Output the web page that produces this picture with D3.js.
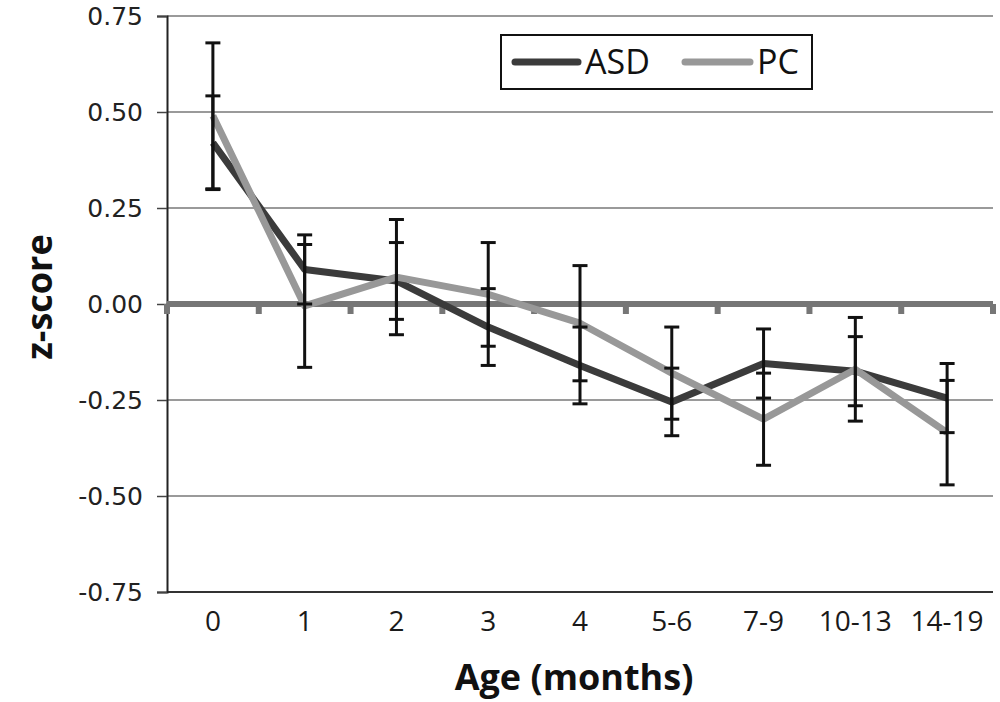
<!DOCTYPE html>
<html>
<head>
<meta charset="utf-8">
<script src="https://cdn.jsdelivr.net/npm/d3@7"></script>
<style>
  body { margin: 0; background: #fff; }
</style>
</head>
<body>
<div id="container"></div>
<script>
// chart values
let categories = ["0", "1", "2", "3", "4", "5-6", "7-9", "10-13", "14-19"];
let asdValues = [0.42, 0.09, 0.06, -0.06, -0.16, -0.255, -0.155, -0.175, -0.245];
let asdErrors = [0.122, 0.09, 0.10, 0.10, 0.10, 0.088, 0.09, 0.09, 0.09];
let pcValues = [0.49, -0.005, 0.07, 0.025, -0.05, -0.18, -0.30, -0.17, -0.335];
let pcErrors = [0.19, 0.16, 0.15, 0.135, 0.15, 0.12, 0.12, 0.135, 0.136];
let yTicks = [0.75, 0.5, 0.25, 0, -0.25, -0.5, -0.75];

let w = 1000;
let h = 702;
let plotLeft = 167;
let plotRight = 993;
let plotTop = 16;
let plotBottom = 592;

let viz = d3.select("#container")
  .append("svg")
    .attr("width", w)
    .attr("height", h)
;
viz.append("rect").attr("width", w).attr("height", h).attr("fill", "#fff");

let xScale = d3.scaleBand().domain(categories).range([plotLeft, plotRight]);
let yScale = d3.scaleLinear().domain([-0.75, 0.75]).range([plotBottom, plotTop]);

// gridlines
viz.append("g").selectAll("line")
  .data(yTicks.filter(function(d){ return d != 0; }))
  .enter()
  .append("line")
    .attr("x1", plotLeft)
    .attr("x2", plotRight)
    .attr("y1", function(d){ return yScale(d); })
    .attr("y2", function(d){ return yScale(d); })
    .attr("stroke", function(d){ return d == -0.75 ? "#333" : "#9a9a9a"; })
    .attr("stroke-width", 2)
;

// y axis (plain hyphen for the minus sign, like the original)
let yAxis = d3.axisLeft(yScale)
  .tickValues(yTicks)
  .tickSize(10)
  .tickPadding(14)
  .tickFormat(function(d){ return d.toFixed(2); });
let yAxisGroup = viz.append("g")
    .attr("class", "yaxisgroup")
    .attr("transform", "translate(" + plotLeft + ",0)")
;
yAxisGroup.call(yAxis);
yAxisGroup.select(".domain").attr("stroke", "#222").attr("stroke-width", 2);
yAxisGroup.selectAll(".tick line").attr("stroke", "#444").attr("stroke-width", 1.5);
yAxisGroup.selectAll(".tick text")
  .attr("font-family", "DejaVu Sans")
  .attr("font-size", 25)
  .attr("fill", "#222");

// zero axis with small ticks at category boundaries
let zeroY = yScale(0);
viz.append("line")
  .attr("x1", plotLeft)
  .attr("x2", plotRight)
  .attr("y1", zeroY)
  .attr("y2", zeroY)
  .attr("stroke", "#767676")
  .attr("stroke-width", 6)
;
let boundaries = categories.map(function(c){ return xScale(c); }).concat([plotRight]);
viz.append("g").selectAll("rect")
  .data(boundaries)
  .enter()
  .append("rect")
    .attr("x", function(d){ return d - 3; })
    .attr("y", zeroY)
    .attr("width", 6)
    .attr("height", 10)
    .attr("fill", "#767676")
;

// x tick labels
let xAxis = d3.axisBottom(xScale).tickSize(0).tickPadding(0);
let xAxisGroup = viz.append("g")
    .attr("class", "xaxisgroup")
    .attr("transform", "translate(0,611)")
;
xAxisGroup.call(xAxis);
xAxisGroup.select(".domain").remove();
xAxisGroup.selectAll(".tick text")
  .attr("dy", 0)
  .attr("y", 20)
  .attr("font-family", "Open Sans")
  .attr("font-size", 28)
  .attr("fill", "#1a1a1a");

// series
function getX(d, i){ return xScale(categories[i]) + xScale.bandwidth() / 2; }

let lineMaker = d3.line()
  .x(function(d, i){ return getX(d, i); })
  .y(function(d){ return yScale(d); })
;

let series = [
  { name: "ASD", values: asdValues, errors: asdErrors, color: "#3b3b3b" },
  { name: "PC", values: pcValues, errors: pcErrors, color: "#989898" }
];

series.forEach(function(s){
  viz.append("path")
    .datum(s.values)
    .attr("d", lineMaker)
    .attr("fill", "none")
    .attr("stroke", s.color)
    .attr("stroke-width", 7)
    .attr("stroke-linejoin", "round")
  ;
});

// error bars
series.forEach(function(s){
  let g = viz.append("g");
  s.values.forEach(function(v, i){
    let x = getX(v, i);
    let y1 = yScale(v + s.errors[i]);
    let y2 = yScale(v - s.errors[i]);
    g.append("line")
      .attr("x1", x).attr("x2", x)
      .attr("y1", y1).attr("y2", y2)
      .attr("stroke", "#111").attr("stroke-width", 3);
    [y1, y2].forEach(function(yy){
      g.append("line")
        .attr("x1", x - 7.5).attr("x2", x + 7.5)
        .attr("y1", yy).attr("y2", yy)
        .attr("stroke", "#111").attr("stroke-width", 3);
    });
  });
});

// legend
let legend = viz.append("g");
legend.append("rect")
  .attr("x", 501).attr("y", 35)
  .attr("width", 311).attr("height", 54)
  .attr("fill", "#fff")
  .attr("stroke", "#111")
  .attr("stroke-width", 2)
;
let legendItems = [
  { x1: 515, x2: 578, tx: 585 },
  { x1: 685, x2: 750, tx: 757 }
];
series.forEach(function(s, i){
  let it = legendItems[i];
  legend.append("line")
    .attr("x1", it.x1).attr("x2", it.x2)
    .attr("y1", 62).attr("y2", 62)
    .attr("stroke", s.color)
    .attr("stroke-width", 7)
    .attr("stroke-linecap", "round");
  legend.append("text")
    .attr("x", it.tx)
    .attr("y", 74)
    .attr("font-family", "Open Sans")
    .attr("font-size", 34)
    .attr("fill", "#111")
    .text(s.name);
});

// axis titles
viz.append("text")
  .attr("transform", "translate(52,297) rotate(-90)")
  .attr("text-anchor", "middle")
  .attr("font-family", "Open Sans")
  .attr("font-weight", "bold")
  .attr("font-size", 36)
  .attr("fill", "#111")
  .text("z-score");

viz.append("text")
  .attr("x", 574)
  .attr("y", 690)
  .attr("text-anchor", "middle")
  .attr("font-family", "Open Sans")
  .attr("font-weight", "bold")
  .attr("font-size", 36)
  .attr("fill", "#111")
  .text("Age (months)");
</script>
</body>
</html>
